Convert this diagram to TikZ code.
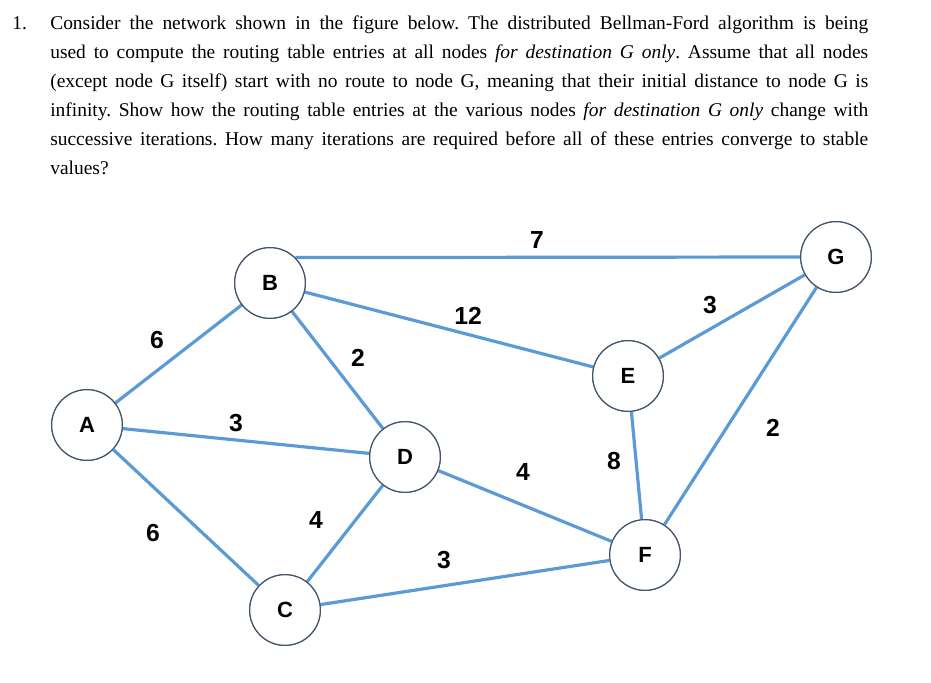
\documentclass[tikz,border=0pt]{standalone}
\usepackage{fontspec}
\setmainfont{Liberation Serif}
\newfontfamily\lab{Liberation Sans}
\begin{document}
\begin{tikzpicture}[x=0.75pt,y=-0.75pt,
  nd/.style={circle,draw=nodeborder,line width=0.9pt,fill=white,minimum size=53pt,inner sep=0pt,font=\lab\bfseries\fontsize{16.5}{16.5}\selectfont},
  ed/.style={draw=edgeblue,line width=2.4pt},
  wt/.style={font=\lab\bfseries\fontsize{18.5}{18.5}\selectfont,inner sep=0pt},
  tl/.style={anchor=base west,inner sep=0pt,font=\fontsize{14.6}{14.6}\selectfont\frenchspacing}]
\definecolor{edgeblue}{RGB}{91,155,213}
\definecolor{nodeborder}{RGB}{68,84,106}
\useasboundingbox (0,0) rectangle (931,682);
\node[tl] (n1) at (12,29) {1.};
\node[tl] (l1) at (50,29) {\makebox[613.5pt][s]{Consider the network shown in the figure below. The distributed Bellman-Ford algorithm is being}};
\node[tl] (l2) at (50,58) {\makebox[613.5pt][s]{used to compute the routing table entries at all nodes \textit{for destination G only}. Assume that all nodes}};
\node[tl] (l3) at (50,87) {\makebox[613.5pt][s]{(except node G itself) start with no route to node G, meaning that their initial distance to node G is}};
\node[tl] (l4) at (50,116) {\makebox[613.5pt][s]{infinity. Show how the routing table entries at the various nodes \textit{for destination G only} change with}};
\node[tl] (l5) at (50,145) {\makebox[613.5pt][s]{successive iterations. How many iterations are required before all of these entries converge to stable}};
\node[tl] (l6) at (50,174) {values?};
\node[nd] (A) at (87,425) {A};
\node[nd] (B) at (270,283) {B};
\node[nd] (C) at (285,610) {C};
\node[nd] (D) at (405,457) {D};
\node[nd] (E) at (628,376) {E};
\node[nd] (F) at (645,555) {F};
\node[nd] (G) at (836,257) {G};
\draw[ed] (B.45) -- (G.west);
\foreach \a/\b in {A/B,A/D,A/C,B/E,B/D,D/C,D/F,C/F,E/F,E/G,F/G}{\draw[ed] (\a) -- (\b);}
\foreach \n in {A,B,C,D,E,F,G}{\node[nd] at (\n) {\n};}
\node[wt] (w1) at (537,240) {7};
\node[wt] (w2) at (468,316) {12};
\node[wt] (w3) at (157,340) {6};
\node[wt] (w4) at (358,358) {2};
\node[wt] (w5) at (236,423) {3};
\node[wt] (w6) at (523,472) {4};
\node[wt] (w7) at (614,461) {8};
\node[wt] (w8) at (710,305) {3};
\node[wt] (w9) at (773,428) {2};
\node[wt] (w10) at (153,533) {6};
\node[wt] (w11) at (316,520) {4};
\node[wt] (w12) at (444,560) {3};
\end{tikzpicture}
\end{document}
